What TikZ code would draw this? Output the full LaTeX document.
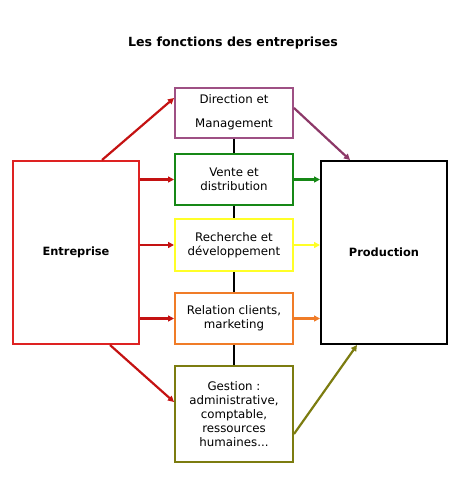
\documentclass[tikz,border=0pt]{standalone}
\usepackage{fontspec}
\setmainfont{DejaVu Sans}
\usetikzlibrary{arrows.meta}

\definecolor{rouge}{RGB}{222,34,34}
\definecolor{rougefleche}{RGB}{196,18,18}
\definecolor{violet}{RGB}{158,80,132}
\definecolor{violetfleche}{RGB}{140,56,104}
\definecolor{vert}{RGB}{22,136,22}
\definecolor{jaune}{RGB}{255,255,40}
\definecolor{orange}{RGB}{240,124,40}
\definecolor{olive}{RGB}{124,124,16}

\tikzset{
  fonction/.style={draw, line width=2pt, fill=white, minimum width=118pt, align=center, font=\fontsize{11.8}{14}\selectfont},
  pole/.style={draw, line width=2pt, minimum width=126pt, minimum height=183pt, font=\fontsize{11.4}{14}\selectfont\bfseries},
  fleche/.style={line width=2.2pt, -{Triangle[length=6pt,width=6pt]}},
  lien/.style={line width=2.2pt}
}

\begin{document}
\begin{tikzpicture}[x=1pt, y=-1pt]
  \useasboundingbox (0,0) rectangle (474,491);

  % Titre
  \node (titre) [font=\fontsize{12.6}{14}\selectfont\bfseries] at (233,43) {Les fonctions des entreprises};

  % Fonctions
  \node (dir) [fonction, draw=violet, minimum height=50pt, font=\fontsize{11.8}{24}\selectfont] at (234,112.5) {Direction et\\Management};
  \node (vente) [fonction, draw=vert, minimum height=51pt] at (234,179.5) {Vente et\\distribution};
  \node (rech) [fonction, draw=jaune, minimum height=52pt] at (234,245) {Recherche et\\développement};
  \node (rel) [fonction, draw=orange, minimum height=51pt] at (234,318.5) {Relation clients,\\marketing};
  \node (gest) [fonction, draw=olive, minimum height=96pt] at (234,414) {Gestion :\\administrative,\\comptable,\\ressources\\humaines...};

  % Entreprise et Production
  \node (ent) [pole, draw=rouge] at (76,252.5) {Entreprise};
  \node (prod) [pole, draw=black] at (384,252.5) {Production};

  % Liens verticaux
  \draw [lien] (dir.south) -- (vente.north);
  \draw [lien] (vente.south) -- (rech.north);
  \draw [lien] (rech.south) -- (rel.north);
  \draw [lien] (rel.south) -- (gest.north);

  % Fleches
  \draw [fleche, rougefleche] ([xshift=26pt]ent.north) -- ([yshift=14.5pt]dir.west);
  \draw [fleche, rougefleche] (ent.east |- vente.west) -- (vente.west);
  \draw [fleche, rougefleche] (ent.east |- rech.west) -- (rech.west);
  \draw [fleche, rougefleche] (ent.east |- rel.west) -- (rel.west);
  \draw [fleche, rougefleche] ([xshift=34pt]ent.south) -- ([yshift=12pt]gest.west);

  \draw [fleche, violetfleche] ([yshift=4.5pt]dir.east) -- ([xshift=-34pt]prod.north);
  \draw [fleche, vert] (vente.east) -- (vente.east -| prod.west);
  \draw [fleche, jaune] (rech.east) -- (rech.east -| prod.west);
  \draw [fleche, orange] (rel.east) -- (rel.east -| prod.west);
  \draw [fleche, olive] ([yshift=-20pt]gest.east) -- ([xshift=-27pt]prod.south);
\end{tikzpicture}
\end{document}
